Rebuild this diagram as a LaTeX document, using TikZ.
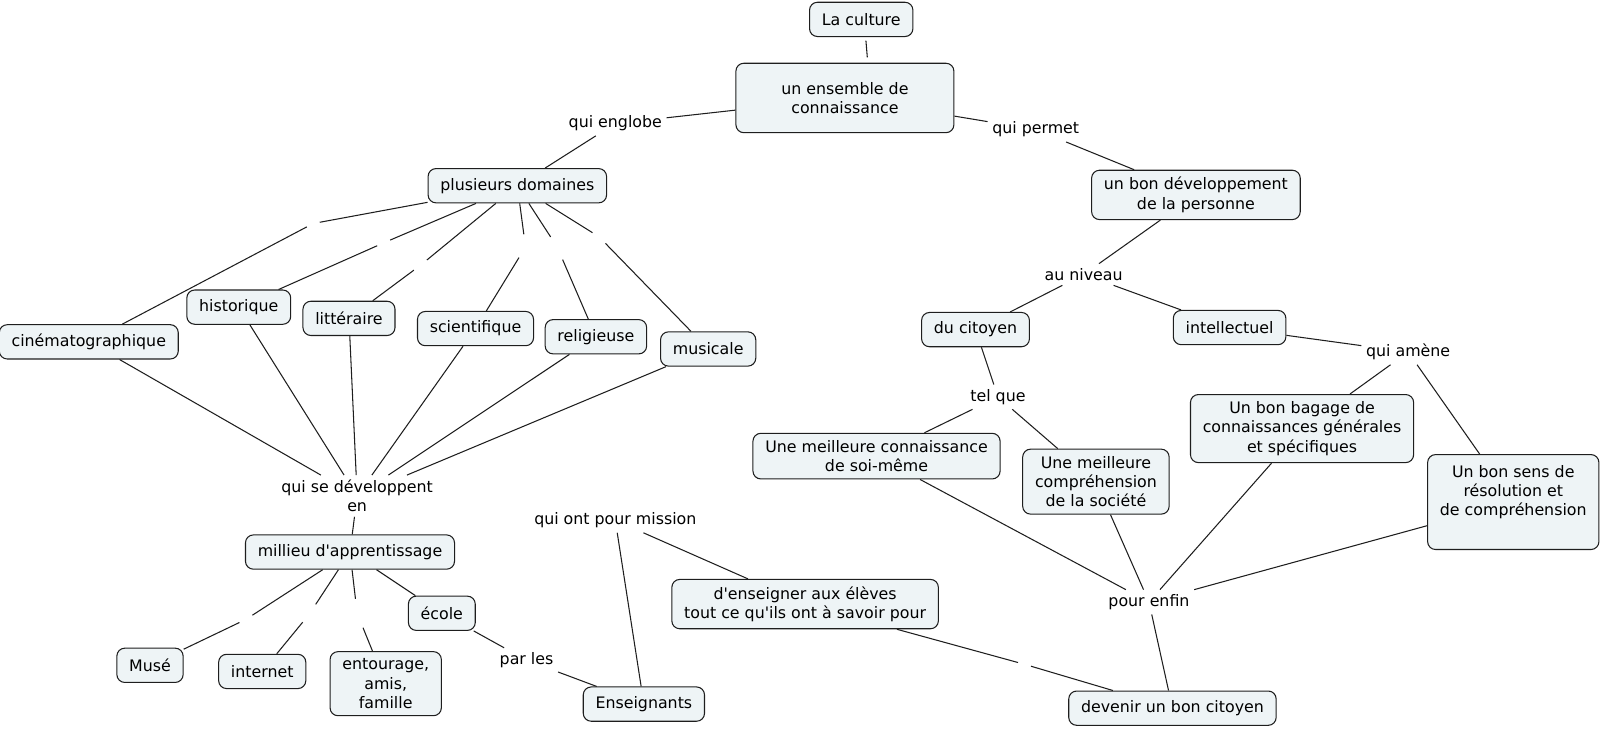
\documentclass[tikz,border=0pt]{standalone}
\usepackage{fontspec}
\setmainfont{DejaVu Sans}
\usepackage{tikz}
\definecolor{cmapfill}{HTML}{EEF4F6}
\definecolor{cmapline}{HTML}{1E1E1E}

\begin{document}
\begin{tikzpicture}[
        x=0.0204cm, y=-0.0204cm,
        font=\fontsize{9}{11}\selectfont,
        concept/.style={rectangle, rounded corners=4.5pt, draw=cmapline, line width=0.6pt, fill=cmapfill, align=center, inner xsep=7pt, inner ysep=4pt, minimum height=19.5pt},
        phrase/.style={align=center, inner sep=2.5pt},
        gap/.style={rectangle, inner sep=0pt, minimum width=7pt, minimum height=14pt},
        link/.style={draw=cmapline, line width=0.6pt}
    ]
        \useasboundingbox (0,0) rectangle (1568,714.5);

        % concepts
        \node[concept] (culture) at (844,19) {La culture};
        \node[concept, minimum width=124pt, minimum height=39.5pt] (ensemble) at (828,96) {un ensemble de\\connaissance};
        \node[concept] (domaines) at (507,182) {plusieurs domaines};
        \node[concept] (devel) at (1172,191) {un bon développement\\de la personne};
        \node[concept] (cinema) at (87,335) {cinématographique};
        \node[concept] (historique) at (234,301) {historique};
        \node[concept] (litteraire) at (342,312) {littéraire};
        \node[concept] (scientifique) at (466,322) {scientifique};
        \node[concept] (religieuse) at (584,330) {religieuse};
        \node[concept] (musicale) at (694,342) {musicale};
        \node[concept] (citoyen) at (956,323) {du citoyen};
        \node[concept] (intellectuel) at (1205,321) {intellectuel};
        \node[concept] (bagage) at (1276,420) {Un bon bagage de\\connaissances générales\\et spécifiques};
        \node[concept, minimum height=54pt] (bonsens) at (1483,492) {Un bon sens de\\résolution et\\de compréhension\\[2pt]};
        \node[concept] (soi) at (859,447) {Une meilleure connaissance\\de soi-même};
        \node[concept] (societe) at (1074,472) {Une meilleure\\compréhension\\de la société};
        \node[concept] (millieu) at (343,541) {millieu d\textquotesingle apprentissage};
        \node[concept] (enseigner) at (789,592) {d\textquotesingle enseigner aux élèves\\tout ce qu\textquotesingle ils ont à savoir pour};
        \node[concept] (ecole) at (433,601) {école};
        \node[concept] (muse) at (147,652) {Musé};
        \node[concept] (internet) at (257,658) {internet};
        \node[concept] (entourage) at (378,670) {entourage,\\amis,\\famille};
        \node[concept] (enseignants) at (631,690) {Enseignants};
        \node[concept] (devenir) at (1149,694) {devenir un bon citoyen};

        % linking phrases
        \node[phrase] (englobe) at (603,121) {qui englobe};
        \node[phrase] (permet) at (1015,127) {qui permet};
        \node[phrase] (niveau) at (1062,269) {au niveau};
        \node[phrase] (amene) at (1380,345) {qui amène};
        \node[phrase] (telque) at (978,389) {tel que};
        \node[phrase] (enfin) at (1126,590) {pour enfin};
        \node[phrase] (developpent) at (350,486) {qui se développent\\en};
        \node[phrase] (mission) at (603,510) {qui ont pour mission};
        \node[phrase] (parles) at (516,647) {par les};

        % empty linking phrases
        \node[gap] (g1) at (307,219) {};
        \node[gap] (g2) at (376,238) {};
        \node[gap] (g3) at (412,260) {};
        \node[gap] (g4) at (515,242) {};
        \node[gap] (g5) at (546,242) {};
        \node[gap] (g6) at (587,232) {};
        \node[gap] (g7) at (241,607) {};
        \node[gap] (g8) at (303,602) {};
        \node[gap, minimum height=16pt] (g9) at (350,601) {};
        \node[gap] (g10) at (1004,651) {};

        % connectors
        \draw[link, shorten <=2pt, shorten >=3pt] ([xshift=2.5pt]culture.south) -- ([xshift=13pt]ensemble.north);
        \draw[link] (ensemble) -- (englobe) -- (domaines);
        \draw[link] (ensemble) -- (permet) -- (devel);
        \draw[link] (devel) -- (niveau) -- (citoyen);
        \draw[link] (niveau) -- (intellectuel);
        \draw[link] (intellectuel) -- (amene) -- (bagage);
        \draw[link] (amene) -- (bonsens);
        \draw[link] (citoyen) -- (telque) -- (soi);
        \draw[link] (telque) -- (societe);
        \foreach \n in {soi,societe,bagage,bonsens}
            \draw[link] (\n) -- (enfin);
        \draw[link] (enfin) -- (devenir);

        \draw[link] (domaines) -- (g1) -- (cinema);
        \draw[link] (domaines) -- (g2) -- (historique);
        \draw[link] (domaines) -- (g3) -- (litteraire);
        \draw[link] (domaines) -- (g4) -- (scientifique);
        \draw[link] (domaines) -- (g5) -- (religieuse);
        \draw[link] (domaines) -- (g6) -- (musicale);
        \foreach \n in {cinema,historique,litteraire,scientifique,religieuse,musicale}
            \draw[link] (\n) -- (developpent);
        \draw[link] (developpent) -- (millieu);

        \draw[link] (millieu) -- (g7) -- (muse);
        \draw[link] (millieu) -- (g8) -- (internet);
        \draw[link] (millieu) -- (g9) -- (entourage);
        \draw[link] (millieu) -- (ecole) -- (parles) -- (enseignants);
        \draw[link] (enseignants) -- (mission) -- (enseigner);
        \draw[link] (enseigner) -- (g10) -- (devenir);
    \end{tikzpicture}
\end{document}
